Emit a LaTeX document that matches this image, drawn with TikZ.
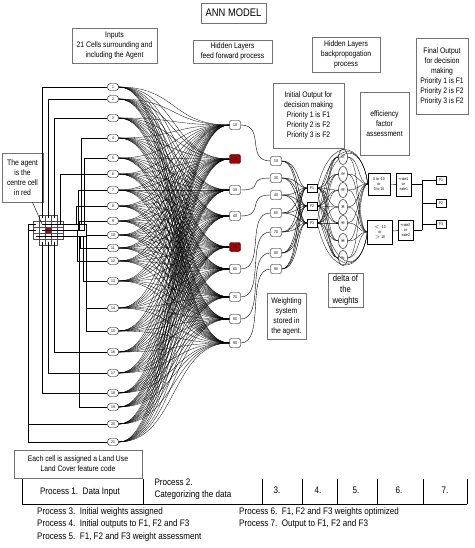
\documentclass[tikz,border=0pt]{standalone}
\usepackage{fontspec}
\usepackage{graphicx}
\setmainfont{Liberation Sans}[FakeStretch=0.85]
\usetikzlibrary{shapes.geometric}

\begin{document}
\begin{tikzpicture}[
    x=1pt, y=-1pt,
    box/.style={draw=black!55, line width=0.7pt, align=center, inner sep=1pt, font=\fontsize{8}{10}\selectfont},
    innode/.style={draw, fill=white, rounded corners=3pt, minimum width=11pt, minimum height=7pt, inner sep=0pt, font=\fontsize{4}{4}\selectfont},
    hidnode/.style={draw, fill=white, rounded corners=2pt, minimum width=11pt, minimum height=9pt, inner sep=0pt, font=\fontsize{4}{4}\selectfont},
    rednode/.style={hidnode, fill=red!65!black},
    fnode/.style={draw, fill=white, minimum width=10pt, minimum height=8pt, inner sep=0pt, font=\fontsize{4}{4}\selectfont},
    dnode/.style={draw, fill=white, ellipse, minimum width=9pt, minimum height=15pt, inner sep=0pt, font=\fontsize{4}{4}\selectfont},
    tinybox/.style={draw, fill=white, align=center, inner sep=0.5pt, font=\fontsize{4}{5}\selectfont},
    cell/.style={draw=black!70, fill=white, minimum size=6pt, inner sep=0pt, line width=0.3pt},
    proc/.style={font=\fontsize{9.5}{12.5}\selectfont},
    wire/.style={line width=0.3pt},
    link/.style={line width=0.4pt}
]
\useasboundingbox (0,0) rectangle (474,548);

\node[box, minimum width=65pt, minimum height=20pt, font=\fontsize{11}{12}\selectfont] (title) at (233.5,13) {ANN MODEL};
\node[box, minimum width=85pt, minimum height=35pt] (inputs) at (114.5,45.5) {Inputs\\21 Cells surrounding and\\including the Agent};
\node[box, minimum width=79pt, minimum height=23pt] (ffbox) at (232.5,51.5) {Hidden Layers\\feed forward process};
\node[box, minimum width=68pt, minimum height=35pt] (bpbox) at (346,54.5) {Hidden Layers\\backpropogation\\process};
\node[box, minimum width=52pt, minimum height=76pt] (finalbox) at (442,76) {Final Output\\for decision\\making\\Priority 1 is F1\\Priority 2 is F2\\Priority 3 is F2};
\node[box, minimum width=71pt, minimum height=65pt] (initbox) at (308.5,115.5) {Initial Output for\\decision making\\Priority 1 is F1\\Priority 2 is F2\\Priority 3 is F2};
\node[box, minimum width=49pt, minimum height=63pt] (effbox) at (384.5,123.5) {efficiency\\factor\\assessment};
\node[box, minimum width=41pt, minimum height=49pt] (agent) at (22.5,177.5) {The agent\\is the\\centre cell\\in red};
\node[box, minimum width=39pt, minimum height=46pt] (weightbox) at (286.5,316) {Weighting\\system\\stored in\\the agent.};
\node[box, minimum width=35pt, minimum height=34pt, font=\fontsize{9}{11}\selectfont] (deltabox) at (345.5,290) {delta of\\the\\weights};
\node[box, minimum width=128pt, minimum height=28pt] (landuse) at (78,464) {Each cell is assigned a Land Use\\Land Cover feature code};

\foreach \k/\c/\r in {1/2/1, 2/3/1, 3/4/1, 4/1/2, 5/2/2, 6/3/2, 7/4/2, 8/5/2, 9/1/3, 10/2/3, 11/3/3, 12/4/3, 13/5/3, 14/1/4, 15/2/4, 16/3/4, 17/4/4, 18/5/4, 19/2/5, 20/3/5, 21/4/5}
    \node[cell] (c\k) at (30+6*\c,212+6*\r) {};
\node[cell, fill=red!70!black] at (c11) {};

\foreach \i/\y in {1/87, 2/99, 3/118, 4/138, 5/158, 6/174, 7/190, 8/206, 9/221, 10/235, 11/248, 12/261, 13/281, 14/308, 15/331, 16/352, 17/373, 18/393, 19/407, 20/424, 21/442}
    \node[innode] (in\i) at (113,\y) {\i};

\foreach \i/\x/\t in {1/42/c1, 2/48/c2, 3/54/c3, 4/81/c7, 5/84/c13, 6/60/c8, 7/78/c12, 8/76/c6, 9/79/c11, 10/86/c18, 11/80/c17, 12/77/c10, 13/83/c16, 14/86/c15, 15/86/c5, 16/54/c21, 17/48/c20, 18/42/c19, 19/79/c14, 20/28/c9, 21/28/c4}
    \draw[link] (in\i.west) -| (\x,0 |- \t) -- (\t.center);
\draw[link] ([xshift=10pt]agent.south) -- (c5.center);

\foreach \n/\y in {10/125, 30/190, 40/216, 60/269, 70/297, 80/319, 90/343}
    \node[hidnode] (ha\n) at (235,\y) {\n};
\node[rednode] (ha20) at (235,159) {20};
\node[rednode] (ha50) at (235,247) {50};

\foreach \i in {1,...,21}
    \foreach \n in {10,20,...,90}
        \draw[wire] (in\i.east) .. controls +(58,0) and +(-58,0) .. (ha\n.west);

\foreach \n/\y in {10/161, 30/178, 40/195, 60/213, 70/232, 80/253, 90/269}
    \node[hidnode] (hb\n) at (276,\y) {\n};
\foreach \n in {10,30,40,60,70,80,90}
    \draw[link] (ha\n.east) .. controls +(25,0) and +(-25,0) .. (hb\n.west);

\foreach \m/\y in {1/188, 2/206, 3/223}
    \node[fnode] (f\m) at (312,\y) {F\m};
\foreach \n in {10,30,40,60,70,80,90}
    \foreach \m in {1,2,3}
        \draw[link] (hb\n.east) .. controls +(18,0) and +(-10,0) .. (f\m.west);

\foreach \d/\y in {1/157, 2/174, 3/190, 4/207, 5/223, 6/241, 7/258}
    \node[dnode] (d\d) at (343,\y) {\rotatebox{90}{0\d}};
\foreach \m in {1,2,3}
    \foreach \d in {1,...,7}
        \draw[wire] (f\m.east) .. controls +(12,0) and +(-12,0) .. (d\d.west);

\node[tinybox, minimum width=22pt, minimum height=22pt] (range1) at (379,184) {0 to -10\\or\\0 to 10};
\node[tinybox, minimum width=25pt, minimum height=24pt] (range2) at (380,232) {$<$ -10\\or\\$>$ 10};
\node[tinybox, minimum width=15pt, minimum height=23pt] (rate1) at (403.5,184.5) {+rate1\\or\\-rate1};
\node[tinybox, minimum width=15pt, minimum height=20pt] (rate2) at (405.5,230) {+rate2\\or\\-rate2};
\foreach \d in {1,...,7} {
    \draw[wire] (d\d.east) .. controls +(12,0) and +(-10,0) .. (range1.west);
    \draw[wire] (d\d.east) .. controls +(12,0) and +(-10,0) .. (range2.west);
}
\foreach \m in {1,2,3} {
    \draw[wire] (f\m.east) .. controls (330,135) and (362,140) .. (range1.west);
    \draw[wire] (f\m.east) .. controls (330,280) and (362,275) .. (range2.west);
}
\draw[link] (range1) -- (rate1);
\draw[link] (range2) -- (rate2);

\foreach \m/\y in {1/180, 2/203, 3/224}
    \node[fnode] (fo\m) at (441,\y) {F\m};
\coordinate (bar) at (422,0);
\draw[link] (rate1.east) -- (rate1.east -| bar);
\draw[link] (rate2.east) -- (rate2.east -| bar);
\draw[link] (fo1.west -| bar) -- (rate2.east -| bar);
\foreach \m in {1,2,3}
    \draw[link] (fo\m.west -| bar) -- (fo\m.west);

\draw[line width=0.9pt] (22,504) -- (467,504);
\foreach \x in {22,143,262,302,337,377,423,467}
    \draw[line width=0.9pt] (\x,479) -- (\x,504);
\node[proc] (p1) at (80,492) {Process 1.\ \ Data Input};
\node[proc, anchor=west, align=left] (p2) at (151,489) {Process 2.\\Categorizing the data};
\node[proc] (p3) at (277,490) {3.};
\node[proc] (p4) at (318,490) {4.};
\node[proc] (p5) at (356,490) {5.};
\node[proc] (p6) at (399,490) {6.};
\node[proc] (p7) at (445,490) {7.};
\node[proc, anchor=north west, align=left, inner sep=0pt] (legA) at (37,507) {Process 3.\ \ Initial weights assigned\\Process 4.\ \ Initial outputs to F1, F2 and F3\\Process 5.\ \ F1, F2 and F3 weight assessment};
\node[proc, anchor=north west, align=left, inner sep=0pt] (legB) at (239,507) {Process 6.\ \ F1, F2 and F3 weights optimized\\Process 7.\ \ Output to F1, F2 and F3};
\end{tikzpicture}
\end{document}
